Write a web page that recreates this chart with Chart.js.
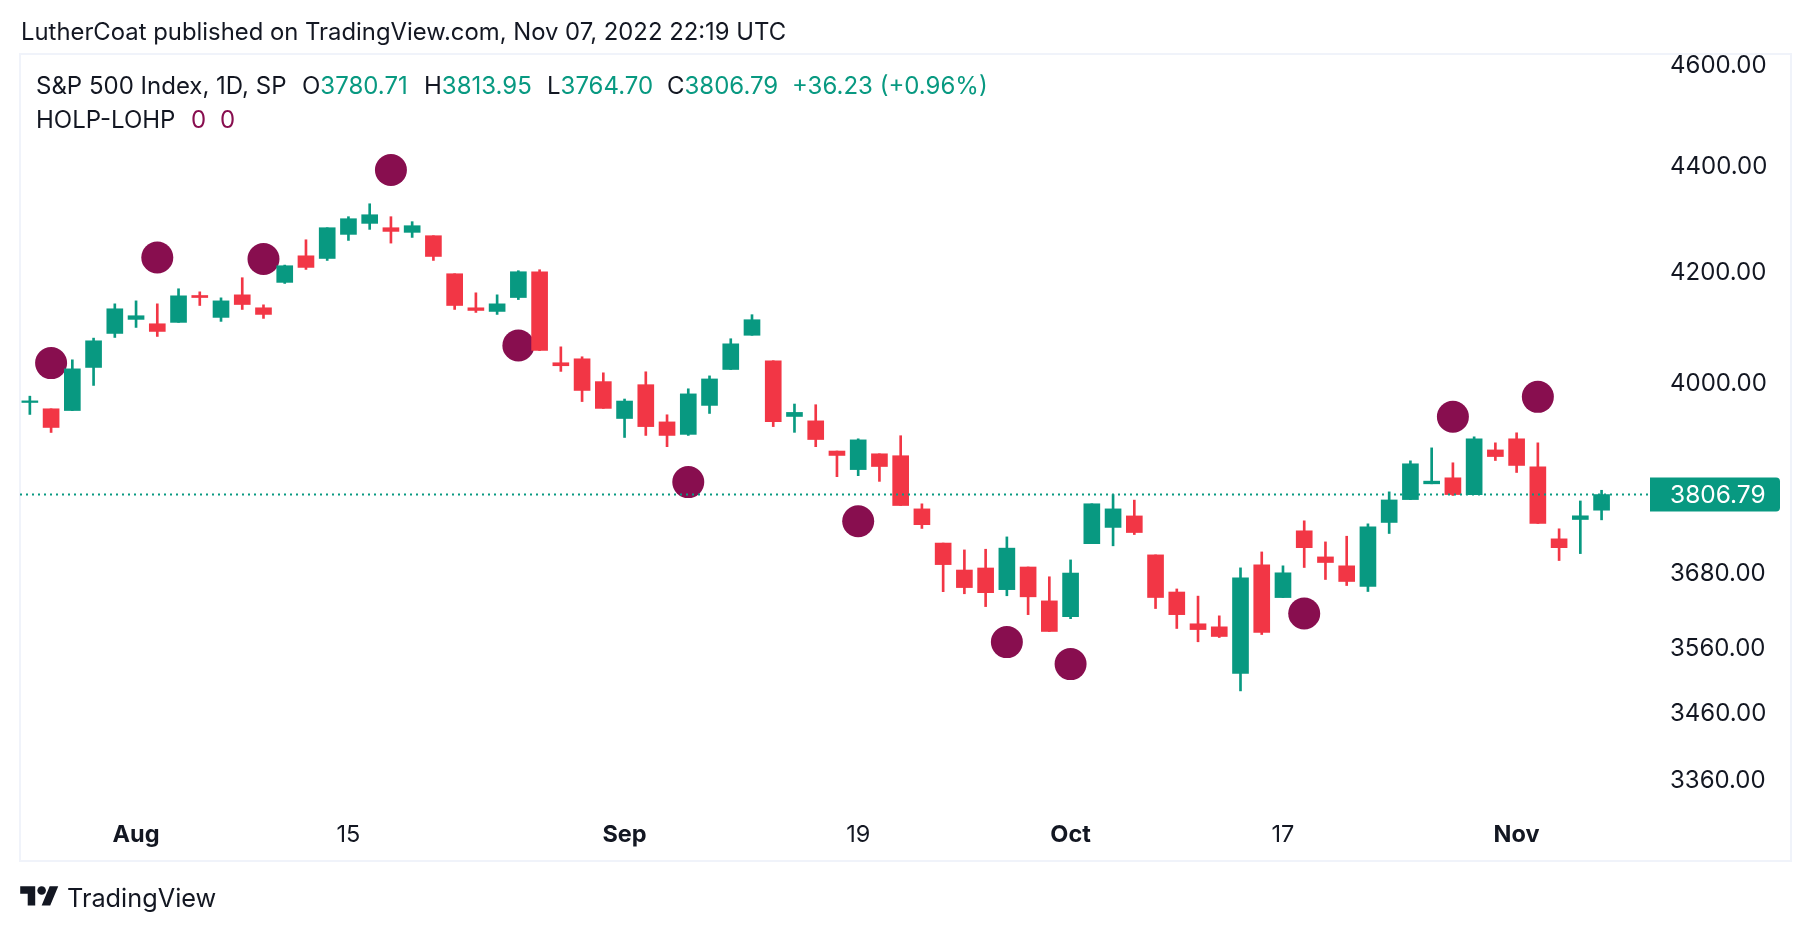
<!DOCTYPE html>
<html><head><meta charset="utf-8">
<style>
html,body{margin:0;padding:0;background:#fff;width:1810px;height:932px;overflow:hidden;font-family:Inter,"Noto Sans",sans-serif;color:#131722}
.t{position:absolute;white-space:nowrap;line-height:1;transform:translateY(-50%);font-size:24px}
.g{color:#089981}.p{color:#880E4F}
#frame{position:absolute;left:19px;top:53px;width:1769px;height:805px;border:2px solid #F0F3FA}
canvas{position:absolute;left:0;top:0}
</style>
<script src="https://cdn.jsdelivr.net/npm/chart.js@4"></script>
</head><body>
<div id="frame"></div>
<canvas id="c" width="1810" height="932"></canvas>
<div class="t" style="left:21px;top:32px;font-size:23.85px">LutherCoat published on TradingView.com, Nov 07, 2022 22:19 UTC</div>
<div class="t" style="left:36px;top:86px">S&amp;P 500 Index, 1D, SP</div>
<div class="t" style="left:302px;top:86px">O<span class="g">3780.71</span></div>
<div class="t" style="left:424px;top:86px">H<span class="g">3813.95</span></div>
<div class="t" style="left:547px;top:86px">L<span class="g">3764.70</span></div>
<div class="t" style="left:667px;top:86px">C<span class="g">3806.79</span></div>
<div class="t g" style="left:792px;top:86px">+36.23 (+0.96%)</div>
<div class="t" style="left:36px;top:120px">HOLP-LOHP</div>
<div class="t p" style="left:191px;top:120px">0</div>
<div class="t p" style="left:220px;top:120px">0</div>
<svg style="position:absolute;left:20px;top:882px" width="39" height="30" viewBox="0 0 36 28" fill="#131722"><path d="M14 22H7V11H0V4h14v18zM28 22h-8l7.5-18h8L28 22z"/><circle cx="20" cy="8" r="4"/></svg>
<div class="t" style="left:67px;top:898px;font-size:25.3px">TradingView</div>
<script>
const opens=[3964,3953,3950,4025.5,4086.1,4111.4,4103.5,4106,4154.8,4115,4156,4132.4,4178.8,4227.9,4223,4267.9,4288.6,4280.4,4271.7,4265.4,4194.7,4132.4,4125.8,4151.1,4198.4,4033.8,4040.8,4000.5,3936.2,3995.1,3930.3,3908.8,3958.9,4021.9,4082.8,4037.4,3939.7,3932.1,3880.3,3848.8,3875.6,3872.3,3782.9,3726.5,3682.6,3685.9,3651,3687.5,3633,3607.9,3725.5,3752.2,3771.2,3707.2,3647.2,3596.6,3591.8,3518.9,3691,3638.3,3746.6,3703.9,3689.4,3656,3760.4,3798.4,3824.8,3834.9,3806.8,3882.2,3901.2,3853.5,3733.4,3765.3,3780.71];
const highs=[3975,3953,4039,4077.7,4139.6,4145,4139.6,4167.1,4161.5,4150.5,4187.4,4137.8,4210.7,4257.8,4280.4,4301.2,4325.7,4301.2,4291.8,4265.4,4194.7,4159.7,4156,4200.3,4202.1,4062.1,4044.4,4016,3970,4017.8,3942.6,3987.9,4010.6,4076.6,4119.9,4037.4,3961.3,3960.1,3880.3,3901.2,3875.6,3906.5,3791.3,3726.5,3715.3,3716.4,3736.6,3687.5,3671.7,3699,3791.4,3806.7,3797.5,3707.2,3652.1,3640.6,3609.2,3686.1,3712,3689.4,3763.1,3728.4,3737.7,3758.1,3811.3,3863.6,3885.7,3860.3,3904.6,3894.3,3911.5,3894.3,3749.9,3796.1,3813.95];
const lows=[3943.2,3912.1,3950,3993.8,4078.9,4096.9,4080.7,4106,4136.6,4107.8,4129.4,4113.2,4176.9,4202.7,4219.3,4256.6,4277.3,4251.6,4262.2,4219.3,4129.4,4124,4120.4,4147.4,4055.5,4018.5,3965.6,3953.7,3903.5,3907,3887.7,3907,3944.9,4021.9,4082.8,3922.2,3912.3,3887.7,3836.8,3838.5,3828.9,3788.5,3750.5,3647.7,3644.4,3623.9,3641.2,3611.1,3584.5,3604.7,3725.5,3722,3740.5,3620.8,3589.2,3568.3,3575,3492.1,3579.7,3638.3,3686.7,3667.3,3657.6,3648,3742.2,3798.4,3824.8,3805.2,3806.8,3864.2,3843.9,3758.7,3698,3709.3,3764.70];
const closes=[3966.8,3920.7,4023,4072.9,4130.6,4118,4089.7,4154.2,4151.1,4145,4138.4,4120.4,4209.5,4206.4,4280.4,4297.4,4304.9,4273.5,4284.2,4226.7,4136.6,4127.6,4139.6,4198.4,4055.5,4028.5,3985,3953.7,3966.5,3922.2,3907,3979,4005.2,4067.5,4110.8,3930.9,3946.7,3900,3872.8,3899.4,3854,3788.5,3756.7,3691.4,3654.3,3646.1,3718.2,3639.5,3584.5,3677.7,3791.4,3782.9,3743.8,3638.4,3611.1,3587.5,3576.6,3670,3582.9,3678.1,3719,3694.8,3664.1,3753.2,3797.8,3858.6,3829.3,3806.8,3901.2,3870.9,3855.8,3758.7,3719,3771.4,3806.79];
const markerIndex=[1,6,11,17,23,31,39,46,49,60,67,71];
const markerValue=[4033.2,4224.8,4221.9,4390.4,4064.4,3827.7,3762.3,3567.8,3533.5,3612.9,3939.2,3973.8];
const priceTicks=[4600,4400,4200,4000,3680,3560,3460,3360];
const timeTickIndex=[5,15,28,39,49,59,70];
const timeTickLabels=["Aug","15","Sep","19","Oct","17","Nov"];
const monthLabels=["Aug","Sep","Oct","Nov"];
const lastClose=closes[closes.length-1];

const GREEN='#089981',RED='#F23645',PURPLE='#880E4F',INK='#131722';
const FONT='Inter, "Noto Sans", sans-serif';
const colors=closes.map((c,i)=>c>=opens[i]?GREEN:RED);
const X_MIN=-0.464,X_MAX=76.28,Y_MIN=3321.3,Y_MAX=4620;

const priceTag={id:'priceTag',afterDraw(ch){
  const c=ch.ctx,y=ch.scales.y.getPixelForValue(lastClose),l=ch.chartArea.right;
  c.save();c.fillStyle=GREEN;c.beginPath();
  c.roundRect(l,y-17,130,34,[0,4,4,0]);c.fill();
  c.fillStyle='#fff';c.font='24.5px '+FONT;c.textAlign='left';c.textBaseline='middle';
  c.fillText(lastClose.toFixed(2),1670,y+1);c.restore();
}};

new Chart(document.getElementById('c'),{
  type:'bar',
  plugins:[priceTag],
  data:{datasets:[
    {type:'line',order:0,data:[{x:X_MIN,y:lastClose},{x:X_MAX,y:lastClose}],borderColor:GREEN,borderWidth:2,borderDash:[2,4],pointRadius:0,fill:false},
    {order:1,grouped:false,barThickness:16,borderWidth:0,backgroundColor:colors,
      data:closes.map((c,i)=>({x:i,y:[Math.min(opens[i],c),Math.max(opens[i],c)]}))},
    {order:2,grouped:false,barThickness:2,borderWidth:0,backgroundColor:colors,
      data:highs.map((h,i)=>({x:i,y:[lows[i],h]}))},
    {type:'scatter',order:3,data:markerIndex.map((x,i)=>({x,y:markerValue[i]})),backgroundColor:PURPLE,borderWidth:0,pointRadius:16,clip:false}
  ]},
  options:{
    responsive:false,animation:false,devicePixelRatio:1,
    layout:{padding:{left:20,top:54,right:20,bottom:70}},
    plugins:{legend:{display:false},tooltip:{enabled:false}},
    scales:{
      x:{type:'linear',offset:false,min:X_MIN,max:X_MAX,bounds:'data',
        grid:{display:false},border:{display:false},
        afterBuildTicks:s=>{s.ticks=timeTickIndex.map(v=>({value:v}));},
        afterFit:s=>{s.height=57;},
        ticks:{autoSkip:false,maxRotation:0,padding:8,color:INK,
          callback:v=>timeTickLabels[timeTickIndex.indexOf(v)],
          font:ctx=>({family:FONT,size:23.5,weight:ctx.tick&&monthLabels.includes(timeTickLabels[timeTickIndex.indexOf(ctx.tick.value)])?'700':'400'})}},
      y:{type:'logarithmic',position:'right',min:Y_MIN,max:Y_MAX,bounds:'data',
        grid:{display:false,drawTicks:false},border:{display:false},
        afterBuildTicks:s=>{s.ticks=priceTicks.map(v=>({value:v}));},
        afterFit:s=>{s.width=140;},
        ticks:{autoSkip:false,padding:20,color:INK,crossAlign:'near',labelOffset:2,
          callback:v=>Number(v).toFixed(2),font:{family:FONT,size:24}}}
    }
  }
});
</script>
</body></html>
